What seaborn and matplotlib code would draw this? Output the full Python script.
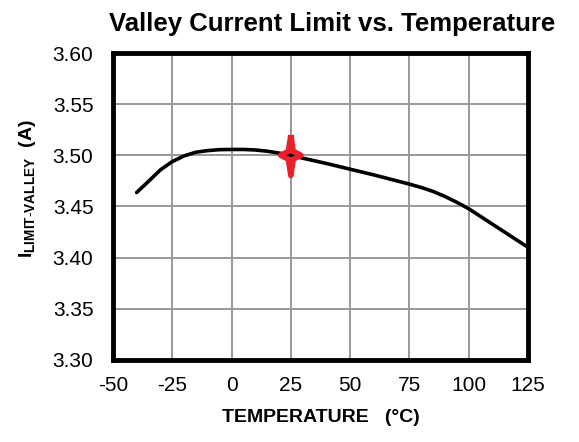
import seaborn as sns
import matplotlib.pyplot as plt
import numpy as np
import pandas as pd
from matplotlib.path import Path

# curve
temperature = [-40, -35, -30, -25, -20, -15, -10, -5, 0, 5, 10, 15, 20, 25,
               30, 40, 50, 60, 70, 75, 80, 85, 90, 95, 100, 110, 120, 125]
i_limit = [3.4636, 3.4745, 3.4857, 3.4938, 3.4994, 3.5030, 3.5046, 3.5055,
           3.5057, 3.5057, 3.5052, 3.5040, 3.5022, 3.5000, 3.4972, 3.4920,
           3.4864, 3.4808, 3.4748, 3.4718, 3.4685, 3.4646, 3.4597, 3.4540,
           3.4477, 3.4326, 3.4175, 3.4100]

marker_temp = [25]
marker_val = [3.50]

x_ticks = [-50, -25, 0, 25, 50, 75, 100, 125]
y_ticks = [3.30, 3.35, 3.40, 3.45, 3.50, 3.55, 3.60]

df = pd.DataFrame({"temp": temperature, "ilim": i_limit})
mk = pd.DataFrame({"temp": marker_temp, "ilim": marker_val})

sns.set_style("white")
plt.rcParams['font.family'] = ['Liberation Sans', 'DejaVu Sans']
plt.rcParams['text.color'] = 'black'
plt.rcParams['axes.labelcolor'] = 'black'
plt.rcParams['xtick.color'] = 'black'
plt.rcParams['ytick.color'] = 'black'
plt.rcParams['axes.unicode_minus'] = False
plt.rcParams['mathtext.fontset'] = 'custom'
plt.rcParams['mathtext.rm'] = 'Liberation Sans'
plt.rcParams['mathtext.it'] = 'Liberation Sans'
plt.rcParams['mathtext.bf'] = 'Liberation Sans:bold'

fig = plt.figure(figsize=(5.79, 4.42), dpi=100)
ax = fig.add_axes([0.195, 0.186, 0.717, 0.694])

sns.lineplot(data=df, x="temp", y="ilim", color="black", linewidth=2.6, ax=ax)

# four-pointed star marker, small hollow centre
star = Path([(0, 1), (0.12, 0.2), (0.5, 0), (0.12, -0.2), (0, -1),
             (-0.12, -0.2), (-0.5, 0), (-0.12, 0.2), (0, 1)])
sns.scatterplot(data=mk, x="temp", y="ilim", marker=star, s=850,
                facecolor="none", edgecolor="#e8202a", linewidth=4,
                zorder=5, ax=ax)

ax.set_xlim(-50, 125)
ax.set_ylim(3.30, 3.60)
ax.set_xticks(x_ticks)
ax.set_yticks(y_ticks)
ax.set_yticklabels([f"{v:.2f}" for v in y_ticks])
ax.tick_params(length=0, labelsize=15)
ax.tick_params(axis="x", pad=12)
ax.tick_params(axis="y", pad=14)
ax.grid(True, color="#999999", linewidth=1.4)
ax.set_axisbelow(True)
for s in ax.spines.values():
    s.set_visible(True)
    s.set_color("black")
    s.set_linewidth(3.5)

ax.set_xlabel("TEMPERATURE   (°C)", fontsize=14, fontweight="bold", labelpad=10)
ax.set_ylabel(r"$\mathbf{I_{LIMIT\text{-}VALLEY}}$  (A)", fontsize=14,
              fontweight="bold")
ax.yaxis.set_label_coords(-0.18, 0.56)
ax.set_title("Valley Current Limit vs. Temperature", fontsize=18.5,
             fontweight="bold", pad=16, x=0.527)

fig.savefig("out.png", dpi=100)
